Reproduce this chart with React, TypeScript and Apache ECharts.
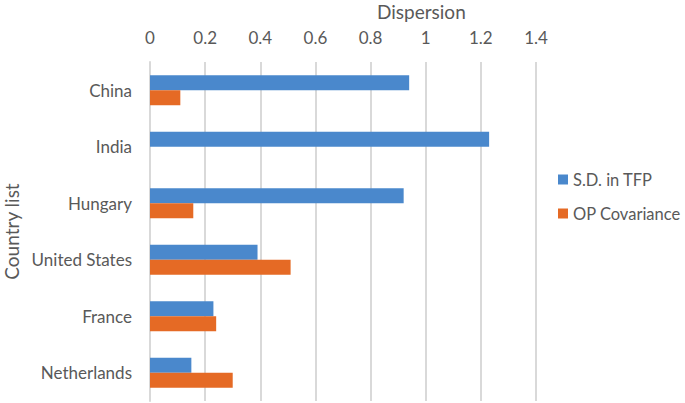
import React, { useEffect, useRef } from "react";
import * as echarts from "echarts";

const countries = ["China", "India", "Hungary", "United States", "France", "Netherlands"];
const sdTFP = [0.94, 1.23, 0.92, 0.39, 0.23, 0.15];
const opCov = [0.11, 0, 0.157, 0.51, 0.24, 0.3];
const seriesNames = ["S.D. in TFP", "OP Covariance"];

const FONT = "Lato, 'Open Sans', sans-serif";
const TXT = "#595959";

export default function App() {
  const ref = useRef<HTMLDivElement>(null);
  useEffect(() => {
    const chart = echarts.init(ref.current!, null, { renderer: "svg" });
    chart.setOption({
      animation: false,
      textStyle: { fontFamily: FONT },
      title: {
        text: "Dispersion",
        left: 372,
        top: -3,
        textStyle: { fontFamily: FONT, fontSize: 19, fontWeight: "normal", color: TXT },
      },
      legend: {
        orient: "vertical",
        left: 553,
        top: 166,
        itemWidth: 10,
        itemHeight: 10,
        itemGap: 17,
        icon: "rect",
        data: seriesNames,
        textStyle: { fontFamily: FONT, fontSize: 16.5, color: TXT },
      },
      grid: {
        left: 150,
        right: 149,
        top: 62,
        bottom: 2,
        containLabel: false,
        outerBoundsMode: "none",
      },
      xAxis: {
        type: "value",
        position: "top",
        min: 0,
        max: 1.4,
        interval: 0.2,
        axisLine: { show: false },
        axisTick: { show: false },
        axisLabel: { color: TXT, fontSize: 17, fontFamily: FONT, margin: 16 },
        splitLine: { lineStyle: { color: "#d9d9d9", width: 2 } },
      },
      yAxis: {
        type: "category",
        data: countries,
        inverse: true,
        name: "Country list",
        nameLocation: "middle",
        nameGap: 126,
        nameRotate: 90,
        nameTextStyle: { fontFamily: FONT, fontSize: 19, color: TXT },
        axisLine: { show: true, lineStyle: { color: "#d9d9d9", width: 2 } },
        axisTick: { show: false },
        axisLabel: { color: TXT, fontSize: 17, fontFamily: FONT, margin: 18 },
      },
      series: [
        {
          name: seriesNames[0],
          type: "bar",
          data: sdTFP,
          barWidth: 15,
          barGap: "0%",
          itemStyle: { color: "#4a88cc" },
        },
        {
          name: seriesNames[1],
          type: "bar",
          data: opCov,
          barWidth: 15,
          barGap: "0%",
          itemStyle: { color: "#e56a25" },
        },
      ],
    });
    return () => chart.dispose();
  }, []);
  return <div ref={ref} style={{ width: 685, height: 403, position: "absolute", left: 0, top: 0 }} />;
}
